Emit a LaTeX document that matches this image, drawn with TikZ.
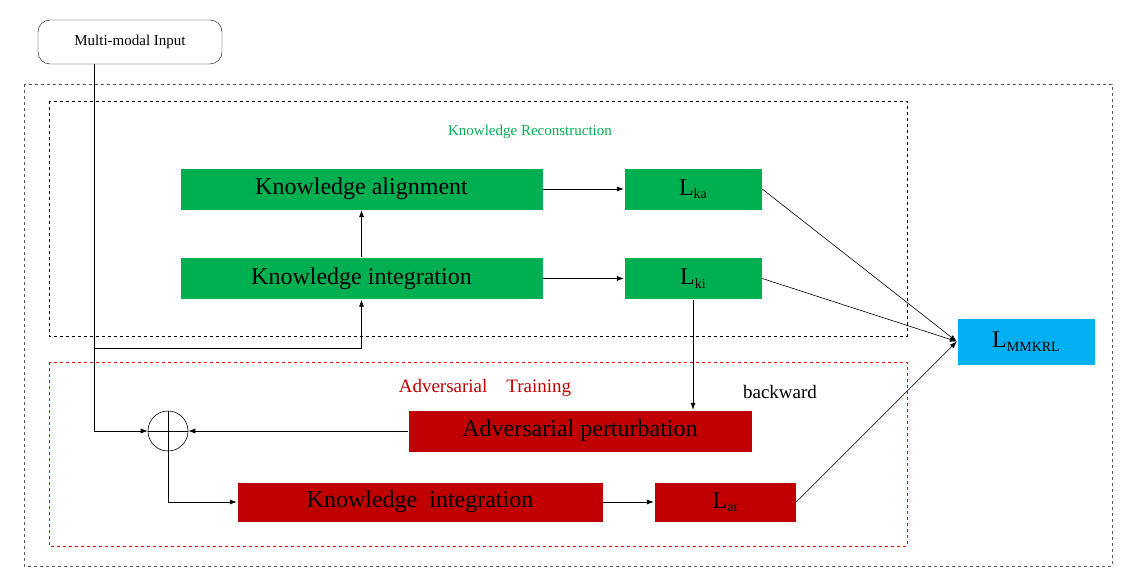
\documentclass[tikz,border=0pt]{standalone}
\usepackage{fontspec}
\setmainfont{Liberation Serif}
\usetikzlibrary{arrows.meta}
\definecolor{kgreen}{HTML}{00B050}
\definecolor{kred}{HTML}{C00000}
\definecolor{kcyan}{HTML}{00B0F0}
\newcommand{\Lsub}[1]{L\raisebox{-0.3ex}{\fontsize{14}{14}\selectfont #1}}
\begin{document}
\begin{tikzpicture}[x=1pt,y=-1pt,
  gbox/.style={draw=white,fill=kgreen,inner sep=0pt,font=\fontsize{24}{26}\selectfont},
  rbox/.style={draw=white,fill=kred,inner sep=0pt,font=\fontsize{24}{26}\selectfont},
  arr/.style={-{Latex[length=7pt,width=5pt]},line width=0.6pt},
  ln/.style={line width=0.6pt}]
\useasboundingbox (0,0) rectangle (1139,583);
\draw[dashed,gray!70!black,line width=0.6pt] (24,84) rectangle (1112,566);
\draw[dashed,line width=0.6pt] (49,101) rectangle (907,336);
\draw[dashed,red,line width=0.6pt] (49,362) rectangle (907,546);
\node[draw,rounded corners=12pt,minimum width=184pt,minimum height=44pt,font=\fontsize{15}{17}\selectfont] (in) at (130,42) {Multi-modal Input};
\node[text=kgreen,font=\fontsize{15}{17}\selectfont] (kr) at (530,132) {Knowledge Reconstruction};
\node[gbox,minimum width=363pt,minimum height=42pt] (ka) at (361.5,189) {Knowledge alignment};
\node[gbox,minimum width=138pt,minimum height=42pt] (lka) at (693,189) {\Lsub{ka}};
\node[gbox,minimum width=363pt,minimum height=42pt] (ki) at (361.5,278.5) {Knowledge integration};
\node[gbox,minimum width=138pt,minimum height=42pt] (lki) at (693,278.5) {\Lsub{ki}};
\node[draw=white,fill=kcyan,minimum width=138pt,minimum height=47pt,font=\fontsize{24}{26}\selectfont] (lm) at (1026,341.5) {\Lsub{MMKRL}};
\node[text=kred,font=\fontsize{19}{21}\selectfont] (at) at (485,388) {Adversarial\quad Training};
\node[font=\fontsize{19}{21}\selectfont] (bw) at (780,392) {backward};
\node[rbox,minimum width=344pt,minimum height=42pt] (ap) at (580,431) {Adversarial perturbation};
\node[draw,circle,minimum size=40pt,inner sep=0pt,line width=0.6pt] (op) at (168,431) {};
\draw[line width=0.6pt] (op.north)--(op.south) (op.west)--(op.east);
\node[rbox,minimum width=366pt,minimum height=40pt] (ki2) at (420,502) {Knowledge\ \ integration};
\node[rbox,minimum width=142pt,minimum height=40pt] (lat) at (725,502) {\Lsub{at}};
\coordinate (c1) at (94,64);
\coordinate (c2) at (94,431);
\coordinate (c3) at (94,348);
\draw[ln] (c1)--(c2);
\draw[arr] (c2)--(op.west);
\draw[arr] (c3)-|(ki.south);
\draw[arr] (ki.north)--(ka.south);
\draw[arr] (ka.east)--(lka.west);
\draw[arr] (ki.east)--(lki.west);
\draw[arr] (lka.east)--(lm.west);
\draw[arr] (lki.east)--(lm.west);
\draw[arr] (lat.east)--(lm.west);
\draw[arr] (lki.south)--(lki.south|-ap.north);
\draw[arr] (ap.west)--(op.east);
\draw[arr] (op.south)|-(ki2.west);
\draw[arr] (ki2.east)--(lat.west);
\end{tikzpicture}
\end{document}
